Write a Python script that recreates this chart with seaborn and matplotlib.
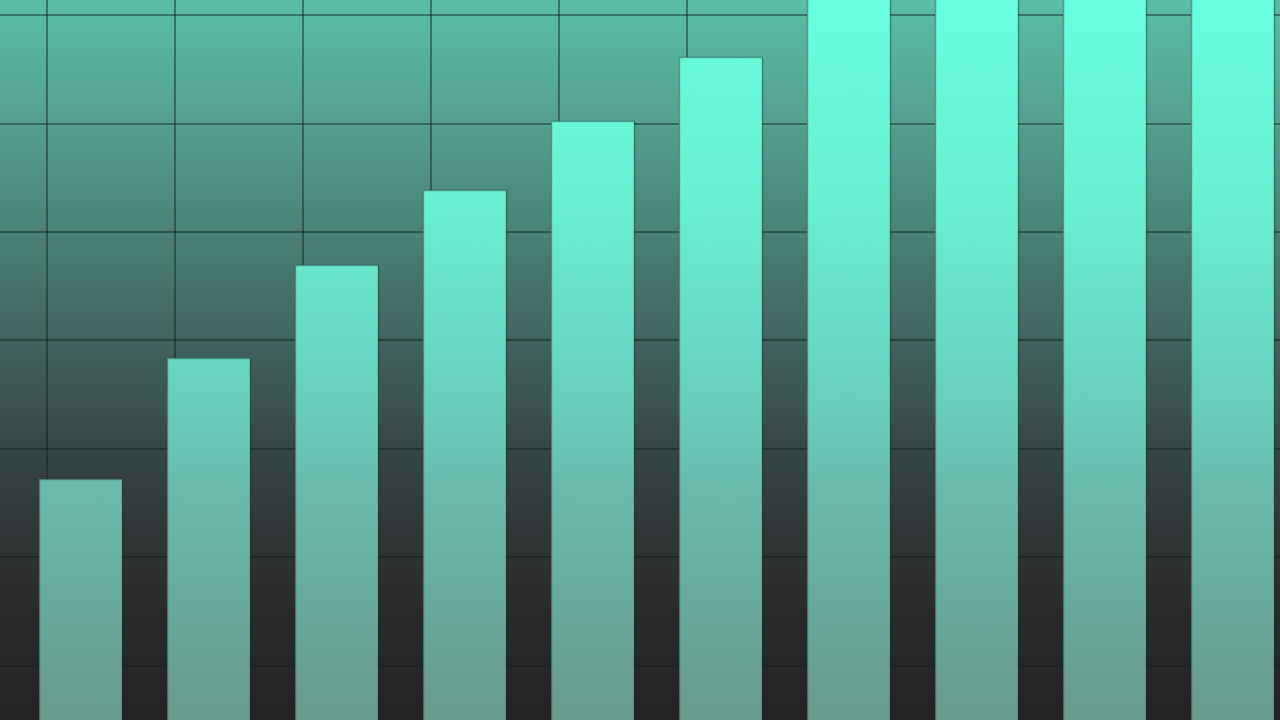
import numpy as np
import pandas as pd
import seaborn as sns
import matplotlib.pyplot as plt
from matplotlib.colors import LinearSegmentedColormap

# bar values (the last four run past the top of the frame)
categories = ['1', '2', '3', '4', '5', '6', '7', '8', '9', '10']
values = [27.2, 38.4, 47.0, 53.9, 60.2, 66.1, 72.0, 77.0, 82.0, 87.0]
y_grid = [10, 20, 30, 40, 50, 60, 70]

df = pd.DataFrame({'cat': categories, 'value': values})

sns.set_theme(style='white')

fig = plt.figure(figsize=(12.8, 7.2), dpi=100)
ax = fig.add_axes([0, 0, 1, 1])

sns.barplot(x='cat', y='value', data=df, width=0.648, color='#69d7c3',
            saturation=1, ax=ax)

xlim = (-0.629, 9.371)
ylim = (5.0, 71.4)

# background gradient: teal at the top fading to near black at the bottom
bg_cmap = LinearSegmentedColormap.from_list('bg', [
    (0.00, '#262325'), (0.17, '#2c2b2c'), (0.375, '#374646'),
    (0.53, '#416460'), (0.68, '#4b8278'), (0.83, '#55a090'),
    (1.00, '#5abea5')])
grad = np.linspace(0, 1, 256).reshape(-1, 1)
ax.imshow(grad, extent=[xlim[0], xlim[1], ylim[0], ylim[1]], origin='lower',
          cmap=bg_cmap, aspect='auto', zorder=0)

# bar fill: a vertical gradient clipped to each bar
bar_cmap = LinearSegmentedColormap.from_list('bars', [
    (0.00, '#699a8e'), (0.30, '#69b9aa'), (0.50, '#69d7c3'),
    (0.72, '#69f0d2'), (1.00, '#69ffde')])
for patch in ax.patches:
    im = ax.imshow(grad, extent=[xlim[0], xlim[1], ylim[0], ylim[1]],
                   origin='lower', cmap=bar_cmap, aspect='auto', zorder=2)
    im.set_clip_path(patch)
    patch.set_facecolor('none')
    patch.set_edgecolor((0.1, 0.2, 0.18, 0.45))
    patch.set_linewidth(1.0)
    patch.set_zorder(3)

# grid
ax.set_xticks(np.arange(len(categories)) - 0.262)
ax.set_yticks(y_grid)
ax.grid(True, color='#10201c', alpha=0.5, linewidth=1.3)
ax.set_axisbelow(True)
for line in ax.get_xgridlines() + ax.get_ygridlines():
    line.set_zorder(1)

ax.set_xlim(*xlim)
ax.set_ylim(*ylim)
ax.tick_params(length=0, labelbottom=False, labelleft=False)
ax.set_xlabel('')
ax.set_ylabel('')
for s in ax.spines.values():
    s.set_visible(False)

plt.savefig('out.png', dpi=100)
